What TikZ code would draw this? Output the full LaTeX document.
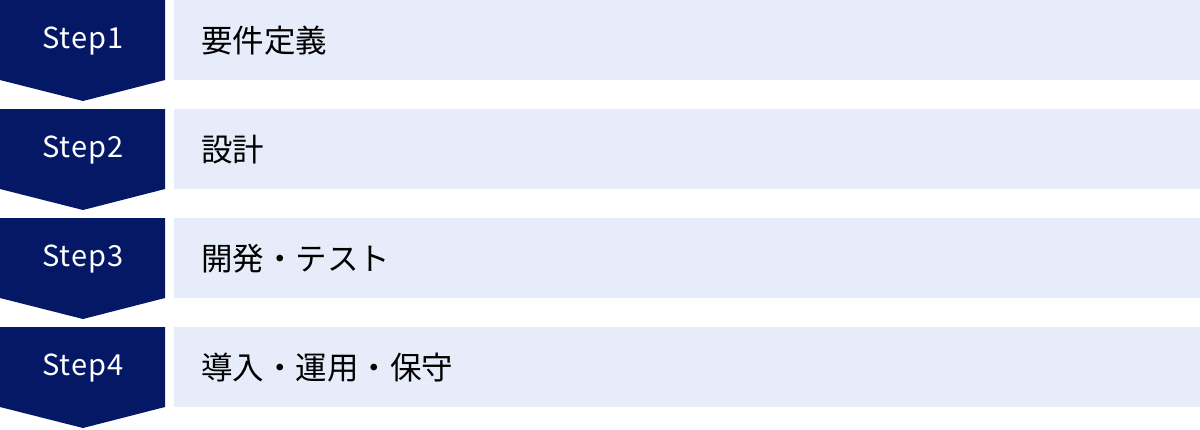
\documentclass[tikz,border=0pt]{standalone}
\usepackage{fontspec}
\setmainfont{Noto Sans CJK JP}
\newfontfamily\stepfont[LetterSpace=4]{Noto Sans CJK JP}
\definecolor{navy}{HTML}{051866}
\definecolor{pale}{HTML}{E6ECF9}
\tikzset{
  stepshape/.style={fill=navy, draw=none},
  bar/.style={fill=pale, draw=none},
  steplabel/.style={text=white, font=\stepfont\fontsize{29}{34}\selectfont, inner sep=0pt},
  barlabel/.style={text=black, font=\fontsize{31.5}{36}\selectfont, inner sep=0pt, anchor=west},
}
\begin{document}
\begin{tikzpicture}[x=1pt,y=-1pt]
\useasboundingbox (0,0) rectangle (1200,429);
\foreach \i/\lab/\txt in {0/1/要件定義, 1/2/設計, 2/3/開発・テスト, 3/4/導入・運用・保守}{
  \pgfmathsetmacro{\t}{\i*109}
  \fill[stepshape] (0,\t) -- (165,\t) -- (165,\t+80) -- (83,\t+101) -- (0,\t+80) -- cycle;
  \fill[bar] (174,\t) rectangle (1200,\t+80);
  \node[steplabel] (s\lab) at (83,\t+41) {Step\lab};
  \node[barlabel] (b\lab) at (201,\t+41) {\txt};
}
\end{tikzpicture}
\end{document}
